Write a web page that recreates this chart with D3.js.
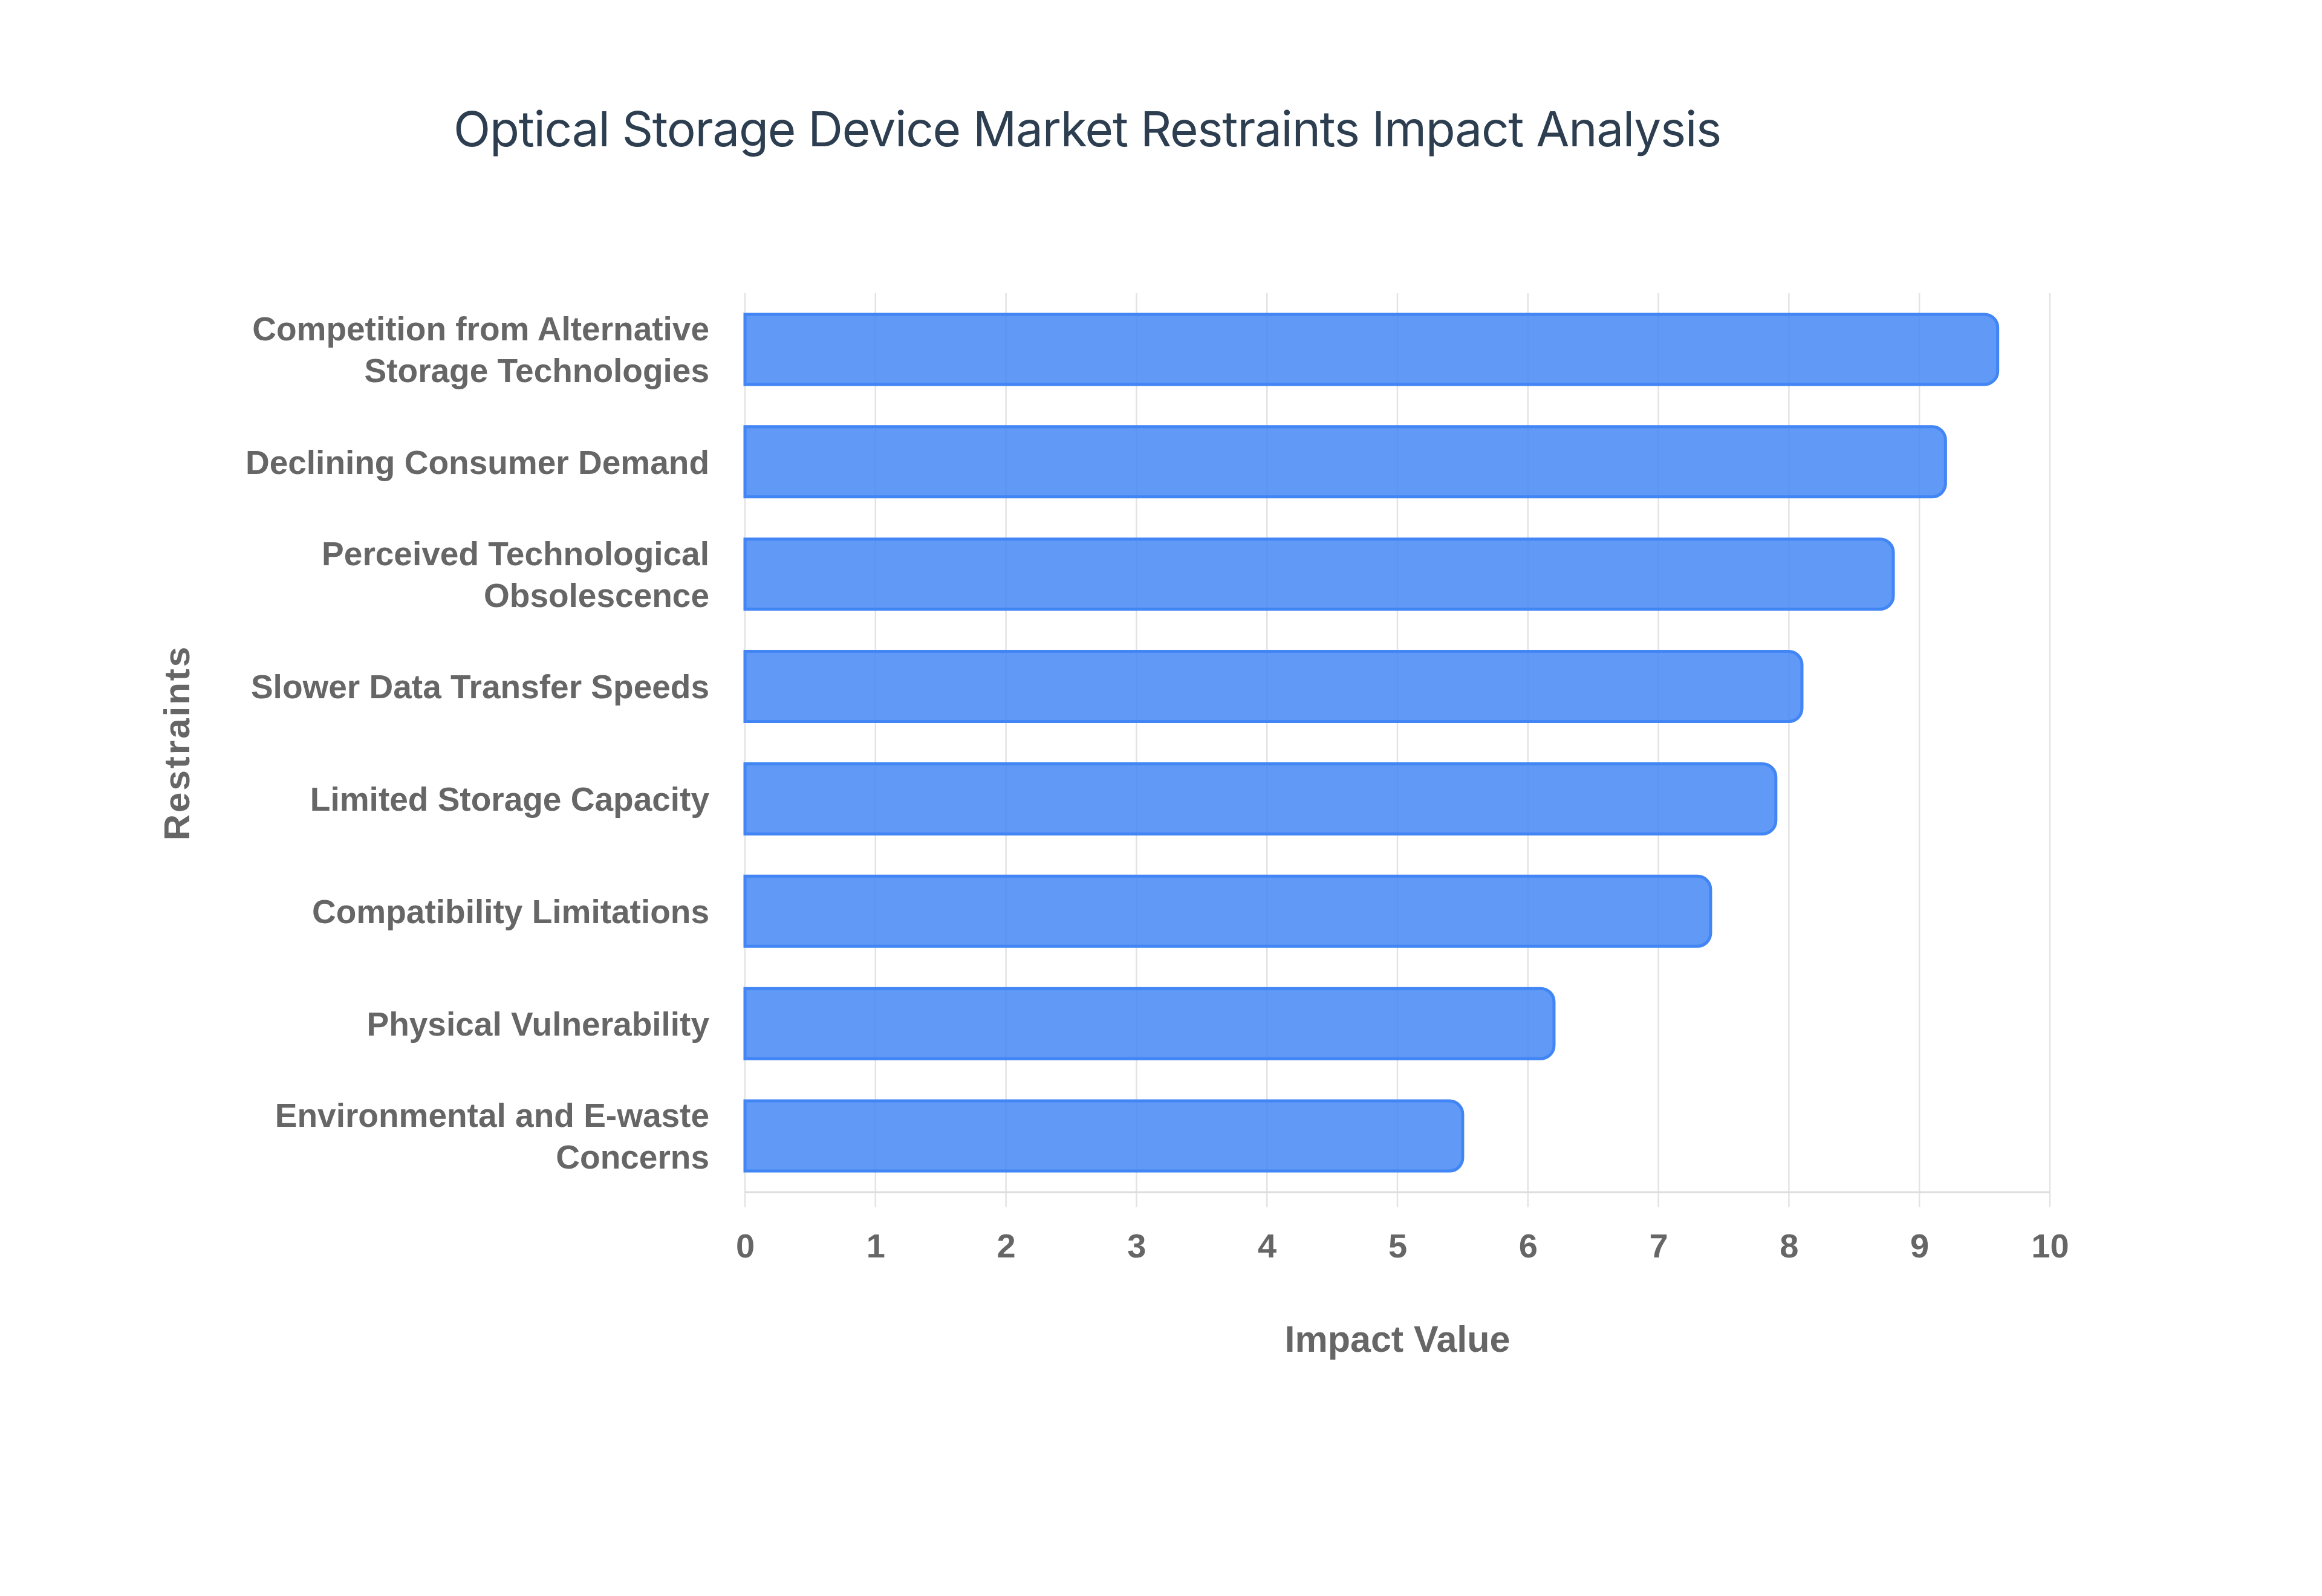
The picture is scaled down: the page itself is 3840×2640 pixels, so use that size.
<!DOCTYPE html>
<html>
<head>
<meta charset="utf-8">
<script src="https://cdn.jsdelivr.net/npm/d3@7/dist/d3.min.js"></script>
<style>
  html, body { margin: 0; padding: 0; background: #ffffff; }
  svg { display: block; }
</style>
</head>
<body>
<svg id="chart" width="3840" height="2640"></svg>
<script>
// ---- data ----
const titleText = "Optical Storage Device Market Restraints Impact Analysis";
const xAxisTitle = "Impact Value";
const yAxisTitle = "Restraints";
const categories = [
  "Competition from Alternative Storage Technologies",
  "Declining Consumer Demand",
  "Perceived Technological Obsolescence",
  "Slower Data Transfer Speeds",
  "Limited Storage Capacity",
  "Compatibility Limitations",
  "Physical Vulnerability",
  "Environmental and E-waste Concerns"
];
const values = [9.6, 9.2, 8.8, 8.1, 7.9, 7.4, 6.2, 5.5];
const xTicks = [0, 1, 2, 3, 4, 5, 6, 7, 8, 9, 10];

// ---- layout ----
const W = 3840, H = 2640;
const plot = { left: 1232, right: 3390, top: 485, bottom: 1972 };
const labelFont = "'Liberation Sans', Arial, Helvetica, sans-serif";
const grey = "#666666";

const svg = d3.select("#chart");
svg.append("rect").attr("width", W).attr("height", H).attr("fill", "#ffffff");

const x = d3.scaleLinear().domain([0, 10]).range([plot.left, plot.right]);
const y = d3.scaleBand().domain(categories).range([plot.top, plot.bottom]).paddingInner(0.376).paddingOuter(0.188);

// grid lines (extend below axis as tick marks)
const grid = svg.append("g");
grid.selectAll("line").data(xTicks).join("line")
  .attr("x1", d => x(d)).attr("x2", d => x(d))
  .attr("y1", plot.top).attr("y2", plot.bottom + 25)
  .attr("stroke", "#e3e3e3").attr("stroke-width", 2.5);

// x axis baseline
svg.append("line")
  .attr("x1", plot.left).attr("x2", plot.right)
  .attr("y1", plot.bottom).attr("y2", plot.bottom)
  .attr("stroke", "#dddddd").attr("stroke-width", 3);

// bars with rounded right end
const r = 22;
function barPath(x0, x1, y0, h) {
  const rr = Math.min(r, h / 2, Math.max(0, x1 - x0));
  return `M${x0},${y0}H${x1 - rr}A${rr},${rr} 0 0 1 ${x1},${y0 + rr}V${y0 + h - rr}A${rr},${rr} 0 0 1 ${x1 - rr},${y0 + h}H${x0}Z`;
}
svg.append("g").selectAll("path").data(categories).join("path")
  .attr("d", (c, i) => barPath(x(0), x(values[i]), y(c), y.bandwidth()))
  .attr("fill", "rgba(66,133,244,0.84)")
  .attr("stroke", "#4285F4")
  .attr("stroke-width", 5);

// x tick labels
const xAxis = d3.axisBottom(x).tickValues(xTicks).tickSize(0).tickPadding(0).tickFormat(d3.format("d"));
const gx = svg.append("g").attr("transform", `translate(0, ${plot.bottom})`).call(xAxis);
gx.select(".domain").remove();
gx.selectAll("text")
  .attr("y", 108).attr("dy", 0)
  .attr("fill", grey)
  .style("font-family", labelFont).style("font-weight", "bold").style("font-size", "56px");

// y category labels (wrapped)
const yAxis = d3.axisLeft(y).tickSize(0).tickPadding(0);
const gy = svg.append("g").attr("transform", `translate(${plot.left}, 0)`).call(yAxis);
gy.select(".domain").remove();
const maxW = 800, lineH = 69, labelGap = -59;
gy.selectAll(".tick text").each(function(d) {
  const t = d3.select(this);
  t.text(null)
    .attr("x", labelGap).attr("dy", null)
    .attr("fill", grey)
    .attr("text-anchor", "end")
    .style("font-family", labelFont).style("font-weight", "bold").style("font-size", "55px");
  const words = d.split(" ");
  const lines = [];
  let cur = [];
  const probe = t.append("tspan");
  words.forEach(w => {
    const test = cur.concat([w]).join(" ");
    probe.text(test);
    if (probe.node().getComputedTextLength() > maxW && cur.length) {
      lines.push(cur.join(" "));
      cur = [w];
    } else {
      cur.push(w);
    }
  });
  lines.push(cur.join(" "));
  probe.remove();
  const offset = -(lines.length - 1) * lineH / 2;
  lines.forEach((ln, k) => {
    t.append("tspan").attr("x", labelGap).attr("y", offset + k * lineH).attr("dy", "0.36em").text(ln);
  });
});

// axis titles
svg.append("text")
  .attr("x", (plot.left + plot.right) / 2).attr("y", 2236)
  .attr("text-anchor", "middle").attr("fill", grey)
  .style("font-family", labelFont).style("font-weight", "bold").style("font-size", "61px")
  .text(xAxisTitle);

svg.append("text")
  .attr("transform", `translate(313, ${(plot.top + plot.bottom) / 2}) rotate(-90)`)
  .attr("text-anchor", "middle").attr("fill", grey)
  .style("font-family", labelFont).style("font-weight", "bold").style("font-size", "60px")
  .style("letter-spacing", "3px")
  .text(yAxisTitle);

// title
svg.append("text")
  .attr("x", 1798).attr("y", 242)
  .attr("text-anchor", "middle").attr("fill", "#2c3e50")
  .style("font-family", "Inter, 'Noto Sans', sans-serif").style("font-weight", "400").style("font-size", "80px")
  .style("letter-spacing", "-1.3px")
  .text(titleText);
</script>
</body>
</html>
